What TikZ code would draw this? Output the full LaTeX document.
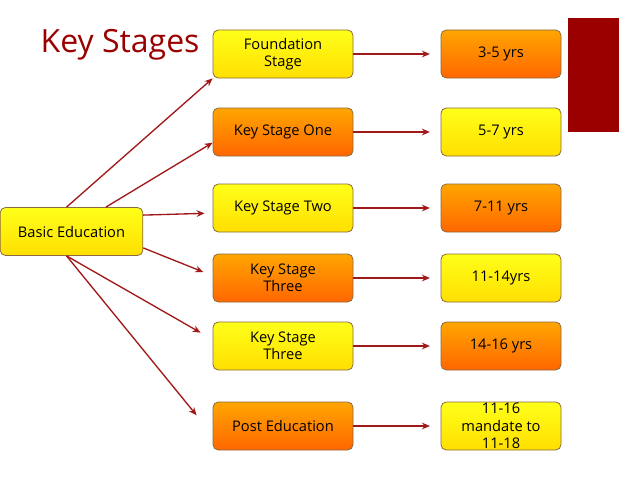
\documentclass[tikz,border=0pt]{standalone}
\usepackage{fontspec}
\setmainfont{Open Sans}
\usetikzlibrary{arrows.meta}
\definecolor{darkred}{HTML}{9B0000}
\definecolor{arr}{HTML}{A01818}
\definecolor{bord}{HTML}{8A6A40}
\tikzset{
  base/.style={draw=bord, line width=0.6pt, rounded corners=4pt, align=center, font=\fontsize{11}{13}\selectfont, inner sep=0pt},
  ybox/.style={base, top color=yellow!90!white, bottom color=yellow!75!orange},
  obox/.style={base, top color=orange!70!yellow, bottom color=orange!80!red},
  mid/.style={minimum width=105pt, minimum height=36pt},
  rgt/.style={minimum width=90pt, minimum height=36pt},
  ar/.style={draw=arr, line width=1pt, -{Stealth[length=6pt,width=5pt]}}
}
\begin{document}
\begin{tikzpicture}[x=0.75pt,y=-0.75pt]
\useasboundingbox (0,0) rectangle (638,478);
\fill[darkred] (568,18) rectangle (619,132);
\node[text=darkred, font=\fontsize{24}{28}\selectfont, anchor=west] (title) at (36,45) {Key Stages};
\node[ybox, minimum width=107pt, minimum height=36pt] (be) at (71.5,231.5) {Basic Education};
\node[ybox,mid] (m1) at (283,54) {Foundation\\Stage};
\node[obox,mid] (m2) at (283,132) {Key Stage One};
\node[ybox,mid] (m3) at (283,208) {Key Stage Two};
\node[obox,mid] (m4) at (283,278) {Key Stage\\Three};
\node[ybox,mid] (m5) at (283,346) {Key Stage\\Three};
\node[obox,mid] (m6) at (283,426) {Post Education};
\node[obox,rgt] (r1) at (501,54) {3-5 yrs};
\node[ybox,rgt] (r2) at (501,132) {5-7 yrs};
\node[obox,rgt] (r3) at (501,208) {7-11 yrs};
\node[ybox,rgt] (r4) at (501,278) {11-14yrs};
\node[obox,rgt] (r5) at (501,346) {14-16 yrs};
\node[ybox,rgt] (r6) at (501,426) {11-16\\mandate to\\11-18};
\foreach \i in {1,...,6}{\draw[ar] (m\i.east) -- ([xshift=-8pt]r\i.west);}
\draw[ar] ([xshift=-57.5pt]be.north east) -- (m1.south west);
\draw[ar] ([xshift=-28pt]be.north east) -- ([yshift=-8pt]m2.west);
\draw[ar] ([yshift=-6pt]be.north east) -- ([xshift=-6pt,yshift=-4pt]m3.west);
\draw[ar] ([yshift=6pt]be.south east) -- ([xshift=-7pt,yshift=4.5pt]m4.west);
\draw[ar] ([xshift=-57.5pt]be.south east) -- ([xshift=-9pt,yshift=10pt]m5.west);
\draw[ar] ([xshift=-57.5pt]be.south east) -- ([xshift=-12pt,yshift=8pt]m6.west);
\end{tikzpicture}
\end{document}
